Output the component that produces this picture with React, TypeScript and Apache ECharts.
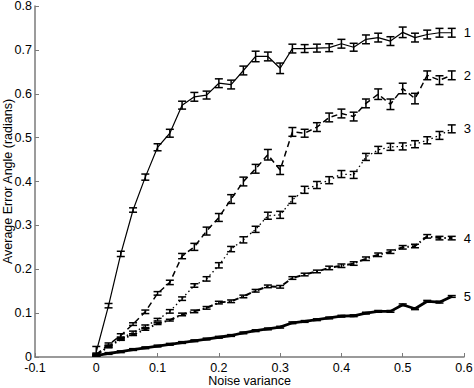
import React, { useEffect, useRef } from "react";
import * as echarts from "echarts";

const xs = [0, 0.02, 0.04, 0.06, 0.08, 0.1, 0.12, 0.14, 0.16, 0.18, 0.2, 0.22, 0.24, 0.26, 0.28, 0.3, 0.32, 0.34, 0.36, 0.38, 0.4, 0.42, 0.44, 0.46, 0.48, 0.5, 0.52, 0.54, 0.56, 0.58];

const s1 = [0.012, 0.117, 0.235, 0.335, 0.41, 0.478, 0.51, 0.574, 0.593, 0.597, 0.624, 0.621, 0.653, 0.685, 0.685, 0.658, 0.703, 0.703, 0.704, 0.705, 0.714, 0.706, 0.724, 0.728, 0.72, 0.74, 0.728, 0.735, 0.739, 0.739];
const s2 = [0.006, 0.028, 0.049, 0.075, 0.103, 0.145, 0.17, 0.23, 0.251, 0.287, 0.318, 0.36, 0.4, 0.429, 0.461, 0.426, 0.513, 0.51, 0.524, 0.546, 0.555, 0.548, 0.578, 0.599, 0.576, 0.612, 0.589, 0.642, 0.631, 0.642];
const s3 = [0.005, 0.024, 0.042, 0.056, 0.07, 0.085, 0.104, 0.133, 0.163, 0.178, 0.209, 0.246, 0.267, 0.291, 0.322, 0.324, 0.358, 0.381, 0.392, 0.403, 0.417, 0.415, 0.456, 0.472, 0.479, 0.48, 0.485, 0.494, 0.505, 0.52];
const s4 = [0.004, 0.024, 0.04, 0.051, 0.063, 0.076, 0.084, 0.097, 0.104, 0.112, 0.124, 0.127, 0.138, 0.151, 0.161, 0.16, 0.18, 0.188, 0.195, 0.203, 0.208, 0.213, 0.224, 0.233, 0.24, 0.25, 0.253, 0.275, 0.271, 0.271];
const s5 = [0.003, 0.008, 0.012, 0.017, 0.021, 0.025, 0.029, 0.033, 0.037, 0.041, 0.045, 0.049, 0.055, 0.06, 0.064, 0.068, 0.078, 0.081, 0.085, 0.089, 0.093, 0.094, 0.1, 0.104, 0.104, 0.119, 0.11, 0.127, 0.125, 0.138];

const e1 = [0.012, 0.005, 0.006, 0.005, 0.007, 0.008, 0.009, 0.009, 0.01, 0.009, 0.01, 0.01, 0.01, 0.012, 0.01, 0.012, 0.01, 0.009, 0.009, 0.009, 0.01, 0.009, 0.01, 0.01, 0.01, 0.012, 0.01, 0.01, 0.01, 0.01];
const e2 = [0.003, 0.004, 0.004, 0.003, 0.004, 0.004, 0.005, 0.006, 0.008, 0.009, 0.009, 0.01, 0.01, 0.01, 0.012, 0.01, 0.01, 0.009, 0.01, 0.01, 0.01, 0.01, 0.01, 0.012, 0.012, 0.012, 0.012, 0.01, 0.01, 0.01];
const e3 = [0.002, 0.003, 0.003, 0.003, 0.003, 0.003, 0.004, 0.004, 0.004, 0.005, 0.006, 0.006, 0.007, 0.007, 0.008, 0.008, 0.008, 0.008, 0.008, 0.008, 0.008, 0.008, 0.008, 0.008, 0.008, 0.008, 0.008, 0.008, 0.009, 0.009];
const e4 = [0.002, 0.002, 0.002, 0.002, 0.002, 0.002, 0.002, 0.003, 0.003, 0.003, 0.003, 0.003, 0.003, 0.003, 0.003, 0.003, 0.003, 0.003, 0.003, 0.004, 0.004, 0.004, 0.004, 0.004, 0.004, 0.004, 0.004, 0.004, 0.004, 0.004];
const e5 = [0.002, 0.002, 0.002, 0.002, 0.002, 0.002, 0.002, 0.002, 0.002, 0.002, 0.002, 0.002, 0.002, 0.002, 0.002, 0.002, 0.002, 0.002, 0.002, 0.002, 0.002, 0.002, 0.002, 0.002, 0.002, 0.002, 0.002, 0.002, 0.002, 0.002];

const seriesNames = ["1", "2", "3", "4", "5"];
const xAxisTitle = "Noise variance";
const yAxisTitle = "Average Error Angle (radians)";

const FONT = "'Liberation Sans', Arial, Helvetica, sans-serif";

export default function App() {
  const ref = useRef<HTMLDivElement>(null);

  useEffect(() => {
    document.body.style.margin = "0";
    if (!ref.current) return;
    const chart = echarts.init(ref.current, undefined, { renderer: "svg" });

    const values = [s1, s2, s3, s4, s5];
    const errs = [e1, e2, e3, e4, e5];
    const styles: any[] = [
      { width: 1.2, type: "solid" },
      { width: 1.5, type: [6, 4] },
      { width: 1.3, type: [1.5, 3] },
      { width: 2, type: [6, 3, 1.5, 3] },
      { width: 2.8, type: "solid" },
    ];

    const lineSeries = values.map((vals, i) => ({
      type: "line",
      name: seriesNames[i],
      data: xs.map((x, j) => [x, vals[j]]),
      showSymbol: false,
      symbol: "none",
      lineStyle: { color: "#000", ...styles[i] },
      itemStyle: { color: "#000" },
      endLabel: {
        show: true,
        formatter: "{a}",
        distance: 12,
        color: "#000",
        fontSize: 13,
        fontFamily: FONT,
      },
      z: 2,
    }));

    const errSeries = values.map((vals, i) => ({
      type: "custom",
      name: "err" + seriesNames[i],
      data: xs.map((x, j) => [x, vals[j] - errs[i][j], vals[j] + errs[i][j]]),
      clip: true,
      z: 3,
      renderItem: (params: any, api: any) => {
        const x = api.value(0);
        const lo = api.coord([x, api.value(1)]);
        const hi = api.coord([x, api.value(2)]);
        const hw = 4;
        const st = { stroke: "#000", lineWidth: 1.5 };
        return {
          type: "group",
          children: [
            { type: "line", shape: { x1: lo[0], y1: lo[1], x2: hi[0], y2: hi[1] }, style: st },
            { type: "line", shape: { x1: hi[0] - hw, y1: hi[1], x2: hi[0] + hw, y2: hi[1] }, style: st },
            { type: "line", shape: { x1: lo[0] - hw, y1: lo[1], x2: lo[0] + hw, y2: lo[1] }, style: st },
          ],
        };
      },
    }));

    const axisCommon = {
      axisLine: { show: true, onZero: false, lineStyle: { color: "#7a7a7a", width: 1.5 } },
      axisTick: { show: true, inside: true, length: 4, lineStyle: { color: "#7a7a7a", width: 1 } },
      splitLine: { show: false },
      nameMoveOverlap: false,
    };

    chart.setOption({
      animation: false,
      backgroundColor: "#fff",
      grid: { left: 35, right: 10, top: 6, bottom: 31, containLabel: false, outerBoundsMode: "none" },
      xAxis: {
        type: "value",
        min: -0.1,
        max: 0.6,
        interval: 0.1,
        name: xAxisTitle,
        nameLocation: "middle",
        nameGap: 17,
        nameTextStyle: { color: "#000", fontSize: 12.5, fontFamily: FONT },
        ...axisCommon,
        axisLabel: {
          color: "#000",
          fontSize: 12.5,
          fontFamily: FONT,
          margin: 4,
          formatter: (v: number) => String(Math.round(v * 10) / 10),
        },
      },
      yAxis: {
        type: "value",
        min: 0,
        max: 0.8,
        interval: 0.1,
        name: yAxisTitle,
        nameLocation: "middle",
        nameGap: 21,
        nameTextStyle: { color: "#000", fontSize: 12.5, fontFamily: FONT },
        ...axisCommon,
        axisLabel: {
          color: "#000",
          fontSize: 12.5,
          fontFamily: FONT,
          margin: 3,
          formatter: (v: number) => String(Math.round(v * 10) / 10),
        },
      },
      series: [...lineSeries, ...errSeries],
    });

    return () => chart.dispose();
  }, []);

  return <div ref={ref} style={{ width: 474, height: 388 }} />;
}
